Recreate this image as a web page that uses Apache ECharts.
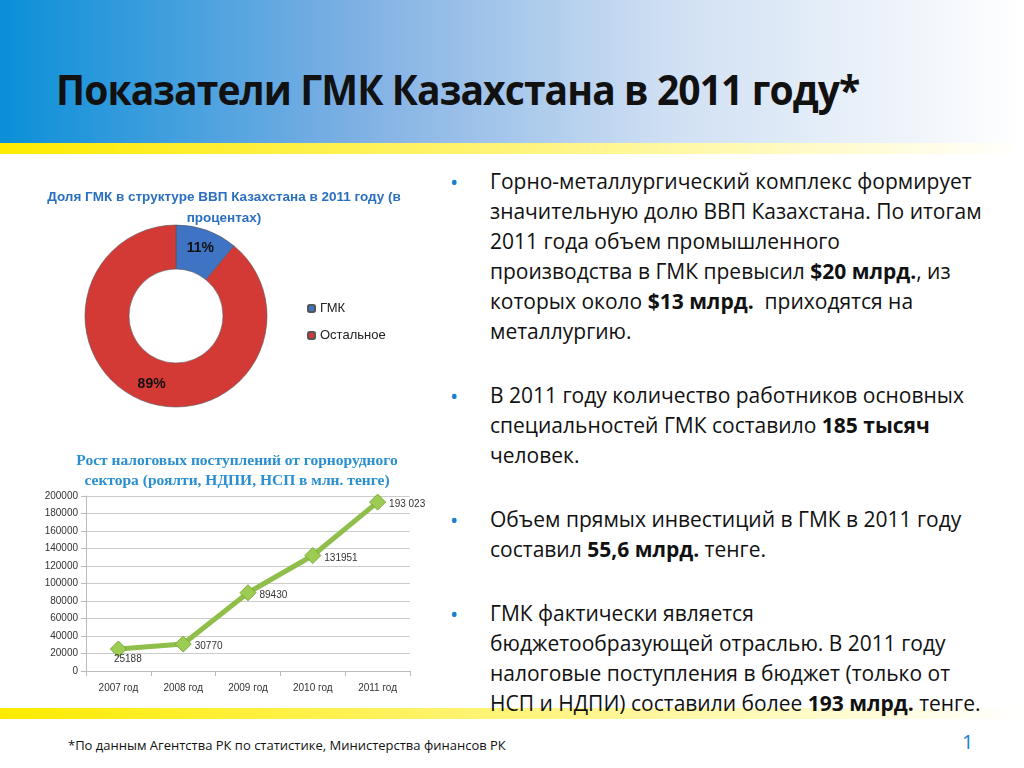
<!DOCTYPE html>
<html lang="ru">
<head>
<meta charset="UTF-8">
<title>Показатели ГМК</title>
<script src="https://cdn.jsdelivr.net/npm/echarts@6/dist/echarts.min.js"></script>
<style>
body { margin:0; width:1024px; height:768px; position:relative; background:#fff; font-family:"Open Sans","Noto Sans",sans-serif; overflow:hidden; }
#head { position:absolute; left:0; top:0; width:1024px; height:143px; background:linear-gradient(to right,#0a8fd8 0%,#7fb0e4 35%,#cfdff3 65%,#ffffff 100%); }
#head h1 { margin:0; position:absolute; left:56px; top:60px; font-family:"Open Sans",sans-serif; font-size:42px; font-weight:bold; color:#111; letter-spacing:-1px; transform:scaleX(0.93); transform-origin:left; white-space:nowrap; }
.band { position:absolute; left:0; width:1024px; height:11px; background:linear-gradient(to right,#ffeb00 0%,#fff47a 50%,#ffffff 100%); }
#text { position:absolute; left:448px; top:166px; width:580px; font-family:"Open Sans",sans-serif; font-size:21px; line-height:30px; color:#111; white-space:nowrap; }
#text ul { margin:0; padding:0; list-style:none; }
#text li { position:relative; padding-left:42px; margin-bottom:34px; }
#text li:before { content:"•"; position:absolute; left:2px; color:#1a7fd0; font-size:22px; }
#foot { position:absolute; left:68px; top:736px; font-size:13px; color:#111; }
#num { position:absolute; left:962px; top:728px; font-size:20px; color:#1a7fd0; }
#pie { position:absolute; left:0; top:170px; width:440px; height:250px; }
#line { position:absolute; left:0; top:440px; width:440px; height:260px; }
</style>
</head>
<body>
<div id="head"><h1>Показатели ГМК Казахстана в 2011 году*</h1></div>
<div class="band" style="top:143px"></div>
<div class="band" style="top:708px"></div>
<div id="text"><ul>
<li>Горно-металлургический комплекс формирует<br>значительную долю ВВП Казахстана. По итогам<br>2011 года объем промышленного<br>производства в ГМК превысил <b>$20 млрд.</b>, из<br>которых около <b>$13 млрд.</b>&nbsp; приходятся на<br>металлургию.</li>
<li>В 2011 году количество работников основных<br>специальностей ГМК составило <b>185 тысяч</b><br>человек.</li>
<li>Объем прямых инвестиций в ГМК в 2011 году<br>составил <b>55,6 млрд.</b> тенге.</li>
<li>ГМК фактически является<br>бюджетообразующей отраслью. В 2011 году<br>налоговые поступления в бюджет (только от<br>НСП и НДПИ) составили более <b>193 млрд.</b> тенге.</li>
</ul></div>
<div id="foot">*По данным Агентства РК по статистике, Министерства финансов РК</div>
<div id="num">1</div>
<div id="pie"></div>
<div id="line"></div>
<script>
var shareNames = ['ГМК', 'Остальное'];
var shareValues = [11, 89];
var years = ['2007 год', '2008 год', '2009 год', '2010 год', '2011 год'];
var taxValues = [25188, 30770, 89430, 131951, 193023];
var taxLabels = ['25188', '30770', '89430', '131951', '193 023'];

var pie = echarts.init(document.getElementById('pie'));
pie.setOption({
    title: {
        text: 'Доля ГМК в структуре ВВП Казахстана в 2011 году (в\nпроцентах)',
        left: 219, top: 12, textAlign: 'center',
        textStyle: { color: '#2a6fc0', fontSize: 13.5, fontWeight: 'bold', lineHeight: 21, fontFamily: 'Liberation Sans' }
    },
    legend: {
        orient: 'vertical', left: 302, top: 127, itemWidth: 7, itemHeight: 7, itemGap: 14,
        textStyle: { fontSize: 13, color: '#222', fontFamily: 'Liberation Sans' }
    },
    series: [{
        type: 'pie', radius: [47, 91], center: [176, 146], startAngle: 90, clockwise: true,
        itemStyle: { borderColor: '#555', borderWidth: 0.6 },
        label: { show: true, position: 'inside', formatter: '{c}%', fontSize: 14, fontWeight: 'bold', color: '#111' },
        labelLine: { show: false },
        data: shareNames.map(function (n, i) {
            return { name: n, value: shareValues[i], itemStyle: { color: i === 0 ? '#3f73c4' : '#d33a35' } };
        })
    }]
});

var line = echarts.init(document.getElementById('line'));
line.setOption({
    title: {
        text: 'Рост налоговых поступлений от горнорудного\nсектора (роялти, НДПИ, НСП в млн. тенге)',
        left: 232, top: 6, textAlign: 'center',
        textStyle: { color: '#2a8fd0', fontSize: 15.5, fontWeight: 'bold', lineHeight: 20, fontFamily: 'Liberation Serif' }
    },
    grid: { left: 86, right: 30, top: 56, bottom: 29 },
    xAxis: {
        type: 'category', data: years, boundaryGap: true,
        axisLine: { lineStyle: { color: '#bbb' } },
        axisTick: { show: true, interval: 0, lineStyle: { color: '#bbb' } },
        axisLabel: { fontSize: 10, color: '#333', margin: 12 }
    },
    yAxis: {
        type: 'value', min: 0, max: 200000, interval: 20000,
        axisLine: { show: true, lineStyle: { color: '#bbb' } },
        axisTick: { show: true, lineStyle: { color: '#bbb' } },
        axisLabel: { fontSize: 10, color: '#333', formatter: function (v) { return String(v); } },
        splitLine: { lineStyle: { color: '#ccc' } }
    },
    series: [{
        type: 'line',
        data: taxValues.map(function (v, i) {
            return i === 0 ? { value: v, label: { position: [4, 14] } } : v;
        }),
        symbol: 'diamond', symbolSize: 16,
        lineStyle: { color: '#8fbf4a', width: 5 },
        itemStyle: { color: '#9ccc52', borderColor: '#7aa83a', borderWidth: 1 },
        label: {
            show: true, fontSize: 10, color: '#333',
            formatter: function (p) { return taxLabels[p.dataIndex]; },
            position: [20, 6]
        }
    }]
});
</script>
</body>
</html>
